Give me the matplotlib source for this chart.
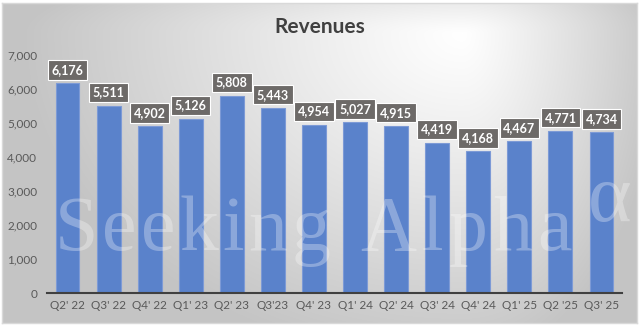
import numpy as np
import matplotlib
matplotlib.use("Agg")
import matplotlib.pyplot as plt

quarters = ["Q2' 22", "Q3' 22", "Q4' 22", "Q1' 23", "Q2' 23", "Q3'23", "Q4' 23",
            "Q1' 24", "Q2' 24", "Q3' 24", "Q4' 24", "Q1' 25", "Q2 '25", "Q3' 25"]
revenues = [6176, 5511, 4902, 5126, 5808, 5443, 4954,
            5027, 4915, 4419, 4168, 4467, 4771, 4734]
y_ticks = [0, 1000, 2000, 3000, 4000, 5000, 6000, 7000]

plt.rcParams["font.family"] = ["Lato", "DejaVu Sans"]

fig = plt.figure(figsize=(6.4, 3.27), dpi=100)
fig.patch.set_facecolor("white")

# chart area background: off-centre radial-ish gradient, white to grey
W, H = 635, 320
xx, yy = np.meshgrid(np.arange(W), np.arange(H))
cx, cy = 460, 30
rx = np.where(xx < cx, 440.0, 200.0)
ry = np.where(yy < cy, 80.0, 330.0)
d = np.clip(np.sqrt(((xx - cx) / rx) ** 2 + ((yy - cy) / ry) ** 2), 0, 1)
shade = 1.0 - 0.23 * d ** 1.1
bg = fig.add_axes([2 / 640, 4 / 327, W / 640, H / 327])
bg.imshow(np.dstack([shade] * 3), aspect="auto", interpolation="bilinear")
bg.set_xticks([])
bg.set_yticks([])
for s in bg.spines.values():
    s.set_color("#d9d9d9")
    s.set_linewidth(1)

ax = fig.add_axes([47 / 640, 34 / 327, 575 / 640, 238 / 327])
ax.patch.set_alpha(0)
x = np.arange(len(quarters))
ax.bar(x, revenues, width=0.58, color="#5a82cb", edgecolor="#7d9ad6",
       linewidth=0.8, zorder=2)

for xi, v in zip(x, revenues):
    ax.annotate(f"{v:,}", (xi, v), xytext=(0, 9.5), textcoords="offset points",
                ha="center", va="center", color="white", fontsize=9,
                fontweight="bold", zorder=4,
                bbox=dict(boxstyle="square,pad=0.3", facecolor="#6d6a68",
                          edgecolor="white", linewidth=0.8))

ax.set_xlim(-0.5, 13.5)
ax.set_ylim(0, 7000)
ax.set_xticks(x)
ax.set_xticklabels(quarters)
ax.set_yticks(y_ticks)
ax.set_yticklabels([f"{t:,}" for t in y_ticks])
ax.tick_params(axis="both", length=0, labelsize=8.5, colors="#595959")
ax.tick_params(axis="y", pad=7)
ax.tick_params(axis="x", pad=5)
for side in ["left", "right", "top"]:
    ax.spines[side].set_visible(False)
ax.spines["bottom"].set_color("#404040")
ax.spines["bottom"].set_linewidth(1.5)
ax.spines["bottom"].set_zorder(3)

# watermark, letter-spaced to span the same width as in the source
wm = dict(color="white", alpha=0.3, family="Liberation Serif",
          transform=fig.transFigure, va="baseline", zorder=5)
renderer = fig.canvas.get_renderer()


def spaced_word(word, x0, x1, base_y):
    texts = [fig.text(0, 1 - base_y / 327, ch, fontsize=56, **wm) for ch in word]
    widths = [t.get_window_extent(renderer).width for t in texts]
    gap = (x1 - x0 - sum(widths)) / max(len(word) - 1, 1)
    pos = x0
    for t, w in zip(texts, widths):
        t.set_x(pos / 640)
        pos += w + gap


spaced_word("Seeking", 55, 330, 250)
spaced_word("Alpha", 360, 572, 250)
fig.text(588 / 640, 1 - 221 / 327, "\u03b1", fontsize=60, **wm)

fig.text(0.5, 1 - 27 / 327, "Revenues", ha="center", va="center",
         fontsize=15, fontweight="bold", color="#404040")

fig.savefig("out.png", dpi=100)
